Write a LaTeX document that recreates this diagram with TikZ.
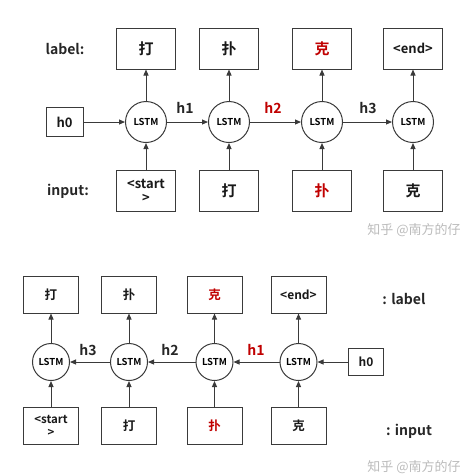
\documentclass[tikz,border=0pt]{standalone}
\usepackage{fontspec}
\setmainfont{Noto Sans CJK SC}[BoldFont={Noto Sans CJK SC Bold}]
\usetikzlibrary{arrows.meta}
\definecolor{ln}{HTML}{3A3A3A}
\definecolor{rd}{HTML}{C00000}
\definecolor{wm}{HTML}{BBBBBB}
\begin{document}
\begin{tikzpicture}[x=1pt,y=-1pt,
  box/.style={draw=ln,line width=1pt,minimum width=59pt,minimum height=41pt,inner sep=1pt,font=\bfseries\fontsize{15}{16}\selectfont,text=black!90,align=center},
  sbox/.style={box,minimum width=55pt,minimum height=37pt,font=\bfseries\fontsize{12.5}{13}\selectfont},
  lat/.style={font=\bfseries\fontsize{13}{14}\selectfont},
  slat/.style={font=\bfseries\fontsize{12}{13}\selectfont},
  hbox/.style={box,lat,minimum width=37pt,minimum height=29pt},
  shbox/.style={box,slat,minimum width=35pt,minimum height=27pt},
  cell/.style={circle,draw=ln,line width=1pt,minimum size=41pt,inner sep=0pt,font=\bfseries\fontsize{9.5}{10}\selectfont},
  scell/.style={cell,minimum size=37pt},
  arr/.style={draw=ln,line width=1pt,-{Triangle[length=6pt,width=5pt]}},
  side/.style={font=\bfseries\fontsize{14}{15}\selectfont,text=black!85},
  hl/.style={font=\bfseries\fontsize{14}{15}\selectfont,text=black!85},
  wmk/.style={font=\fontsize{13}{14}\selectfont,text=wm}]
\useasboundingbox (0,0) rectangle (474,475);
% ---------- top diagram ----------
\node[side] (tlab) at (65,49) {label:};
\node[side] (tinp) at (68,191) {input:};
\node[hbox] (th0) at (64.5,122) {h0};
\foreach \i/\x in {1/146,2/229,3/322,4/413}{
  \node[cell] (tc\i) at (\x,122) {LSTM};
}
\node[box] (to1) at (146,48.5) {打};
\node[box] (to2) at (229,48.5) {扑};
\node[box,text=rd] (to3) at (322,48.5) {克};
\node[box,lat] (to4) at (413,48.5) {<end>};
\node[box,lat] (ti1) at (146,191) {<start\\>};
\node[box] (ti2) at (229,191) {打};
\node[box,text=rd] (ti3) at (322,191) {扑};
\node[box] (ti4) at (413,191) {克};
\foreach \i in {1,2,3,4}{
  \draw[arr] (tc\i) -- (to\i);
  \draw[arr] (ti\i) -- (tc\i);
}
\draw[arr] (th0) -- (tc1);
\draw[arr] (tc1) -- (tc2);
\draw[arr] (tc2) -- (tc3);
\draw[arr] (tc3) -- (tc4);
\node[hl] (th1) at (185,108) {h1};
\node[hl,text=rd] (th2) at (273,108) {h2};
\node[hl] (th3) at (368,108) {h3};
\node[wmk] (twm) at (414,230) {知乎 @南方的仔};
% ---------- bottom diagram ----------
\node[side] (blab) at (404,299) {: label};
\node[side] (binp) at (409,431) {: input};
\node[shbox] (bh0) at (366,362) {h0};
\foreach \i/\x in {1/51,2/129,3/214.5,4/298.5}{
  \node[scell] (bc\i) at (\x,362) {LSTM};
}
\node[sbox] (bo1) at (51,294.5) {打};
\node[sbox] (bo2) at (129,294.5) {扑};
\node[sbox,text=rd] (bo3) at (214.5,294.5) {克};
\node[sbox,slat] (bo4) at (298.5,294.5) {<end>};
\node[sbox,font=\bfseries\fontsize{11.5}{12.5}\selectfont] (bi1) at (51,426) {<start\\>};
\node[sbox] (bi2) at (129,426) {打};
\node[sbox,text=rd] (bi3) at (214.5,426) {扑};
\node[sbox] (bi4) at (298.5,426) {克};
\foreach \i in {1,2,3,4}{
  \draw[arr] (bc\i) -- (bo\i);
  \draw[arr] (bi\i) -- (bc\i);
}
\draw[arr] (bh0) -- (bc4);
\draw[arr] (bc4) -- (bc3);
\draw[arr] (bc3) -- (bc2);
\draw[arr] (bc2) -- (bc1);
\node[hl,text=rd] (bh1) at (256,350) {h1};
\node[hl] (bh2) at (170,350) {h2};
\node[hl] (bh3) at (88,350) {h3};
\node[wmk] (bwm) at (414,467) {知乎 @南方的仔};
\end{tikzpicture}
\end{document}
